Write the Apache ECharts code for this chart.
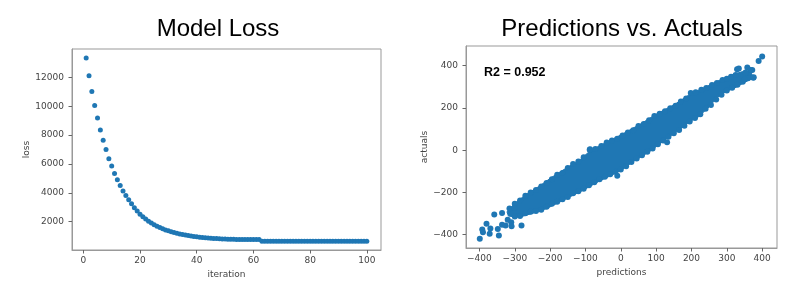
<!DOCTYPE html>
<html><head><meta charset="utf-8">
<script src="https://cdn.jsdelivr.net/npm/echarts@6/dist/echarts.min.js"></script>
<style>html,body{margin:0;padding:0;background:#fff}#c{width:811px;height:298px}</style>
</head><body><div id="c"></div>
<script>
// ---- Model Loss data ----
const iterations = [1,2,3,4,5,6,7,8,9,10,11,12,13,14,15,16,17,18,19,20,21,22,23,24,25,26,27,28,29,30,31,32,33,34,35,36,37,38,39,40,41,42,43,44,45,46,47,48,49,50,51,52,53,54,55,56,57,58,59,60,61,62,63,64,65,66,67,68,69,70,71,72,73,74,75,76,77,78,79,80,81,82,83,84,85,86,87,88,89,90,91,92,93,94,95,96,97,98,99,100];
const lossValues = [13345,12116,11030,10056,9178,8344,7650,7000,6354,5850,5340,4905,4510,4132,3808,3520,3240,2960,2730,2520,2340,2175,2030,1900,1785,1680,1585,1500,1425,1360,1300,1245,1195,1150,1110,1070,1035,1003,975,950,925,903,883,865,849,835,822,810,800,790,783,777,772,768,765,762,760,758,756,755,754,753,640,640,639,639,638,638,638,637,637,637,636,636,636,636,635,635,635,635,634,634,634,634,634,633,633,633,633,633,633,632,632,632,632,632,632,632,632,632];
const lossXTicks = [0,20,40,60,80,100];
const lossYTicks = [2000,4000,6000,8000,10000,12000];

// ---- Predictions vs Actuals data ----
const predXTicks = [-400,-300,-200,-100,0,100,200,300,400];
const predYTicks = [-400,-200,0,200,400];
// dense core of the cloud: upper boundary (left->right) and lower boundary (right->left)
const bandUpper = [[-322,-292],[-300,-252],[-270,-212],[-232,-172],[-195,-128],[-150,-80],[-120,-52],[-86,-2],[-40,38],[0,72],[56,124],[100,170],[150,214],[197,266],[225,287],[254,310],[282,333],[320,360],[345,372],[368,372]];
const bandLower = [[375,342],[345,316],[320,292],[300,280],[273,250],[250,205],[216,152],[197,138],[169,100],[131,56],[84,-4],[37,-52],[0,-96],[-30,-122],[-57,-143],[-105,-188],[-152,-228],[-208,-275],[-246,-297],[-288,-318],[-318,-312]];
// points on the ragged edges of the cloud
const edgePoints = [[-315,-276],[-300,-254],[-285,-238],[-270,-216],[-255,-200],[-240,-188],[-225,-172],[-210,-155],[-195,-138],[-180,-116],[-165,-108],[-150,-84],[-135,-66],[-120,-54],[-105,-34],[-88,2],[-72,6],[-55,20],[-40,36],[-25,46],[-10,54],[5,70],[20,84],[35,94],[50,114],[65,124],[80,142],[95,162],[110,172],[125,184],[140,198],[155,210],[170,230],[185,244],[198,270],[212,274],[228,286],[242,294],[258,308],[272,318],[288,332],[300,338],[312,348],[325,356],
[-300,-314],[-285,-312],[-270,-298],[-255,-292],[-240,-288],[-225,-282],[-210,-268],[-195,-254],[-180,-244],[-165,-232],[-150,-222],[-135,-204],[-120,-194],[-105,-182],[-90,-166],[-75,-152],[-60,-138],[-45,-126],[-30,-114],[-15,-102],[0,-92],[15,-76],[30,-56],[45,-40],[60,-24],[75,-8],[90,8],[105,28],[120,46],[135,64],[150,80],[165,96],[180,116],[195,136],[210,152],[225,170],[240,196],[255,214],[270,240],[285,262],[300,282],[315,296],[330,310],[345,324],[360,340]];
// isolated points
const outlierPoints = [[-399,-419],[-392,-376],[-390,-389],[-380,-348],[-369,-371],[-371,-395],[-358,-305],[-345,-404],[-348,-373],[-336,-297],[-336,-353],[-320,-329],[-310,-341],[-309,-360],[-281,-357],[-301,-274],[-326,-357],[131,37],[-10,-121],[-87,4],[329,383],[334,386],[358,391],[372,380],[375,343],[367,380],[376,345],[350,336],[353,367],[390,422],[400,443]];

const fmt = v => String(v).replace('-', '\u2212');
const tickFont = {fontFamily:'DejaVu Sans', fontSize:9, color:'#444'};
const dot = '#1f77b4';

function xAx(gi, min, max, ticks, name){
  return {type:'value', gridIndex:gi, min:min, max:max, name:name, nameLocation:'middle', nameGap:19,
    nameTextStyle:tickFont,
    axisLine:{show:true, onZero:false, lineStyle:{color:'#999', width:1}},
    axisTick:{show:true, length:3.5, lineStyle:{color:'#666'}, customValues:ticks},
    axisLabel:Object.assign({customValues:ticks, margin:6, formatter:fmt}, tickFont),
    splitLine:{show:false}};
}
function yAx(gi, min, max, ticks, name, gap){
  return {type:'value', gridIndex:gi, min:min, max:max, name:name, nameLocation:'middle', nameGap:gap,
    nameTextStyle:tickFont,
    axisLine:{show:true, onZero:false, lineStyle:{color:'#999', width:1}},
    axisTick:{show:true, length:3.5, lineStyle:{color:'#666'}, customValues:ticks},
    axisLabel:Object.assign({customValues:ticks, margin:8, formatter:fmt}, tickFont),
    splitLine:{show:false}};
}

const chart = echarts.init(document.getElementById('c'), null, {renderer:'canvas'});
chart.setOption({
  animation:false,
  backgroundColor:'#fff',
  grid:[
    {left:72, top:49, width:309, height:201, show:true, borderColor:'#999', borderWidth:1},
    {left:466, top:46, width:311, height:202, show:true, borderColor:'#999', borderWidth:1}
  ],
  xAxis:[xAx(0,-4,105,lossXTicks,'iteration'), xAx(1,-438,442,predXTicks,'predictions')],
  yAxis:[yAx(0,33,13968,lossYTicks,'loss',41), yAx(1,-463,493,predYTicks,'actuals',36)],
  graphic:[
    {type:'text', x:218, y:29, style:{text:'Model Loss', fontFamily:'Liberation Sans', fontSize:24, fill:'#000', align:'center', verticalAlign:'middle'}},
    {type:'text', x:622, y:29, style:{text:'Predictions vs. Actuals', fontFamily:'Liberation Sans', fontSize:24, fill:'#000', align:'center', verticalAlign:'middle'}},
    {type:'text', x:484, y:73, style:{text:'R2 = 0.952', fontFamily:'Liberation Sans', fontWeight:'bold', fontSize:12.5, fill:'#000', align:'left', verticalAlign:'middle'}}
  ],
  series:[
    {type:'scatter', xAxisIndex:0, yAxisIndex:0, symbolSize:5, itemStyle:{color:dot, opacity:1, borderWidth:0},
     data: iterations.map((x,i)=>[x, lossValues[i]])},
    {type:'custom', xAxisIndex:1, yAxisIndex:1, data:[[0,0]], silent:true,
     renderItem:function(params, api){
       const pts = bandUpper.concat(bandLower).map(p => api.coord(p));
       return {type:'polygon', shape:{points:pts}, style:{fill:dot, stroke:dot, lineWidth:1, opacity:1}};
     }},
    {type:'scatter', xAxisIndex:1, yAxisIndex:1, symbolSize:6, itemStyle:{color:dot, opacity:1, borderWidth:0},
     data: edgePoints.concat(outlierPoints)}
  ]
});
</script></body></html>
